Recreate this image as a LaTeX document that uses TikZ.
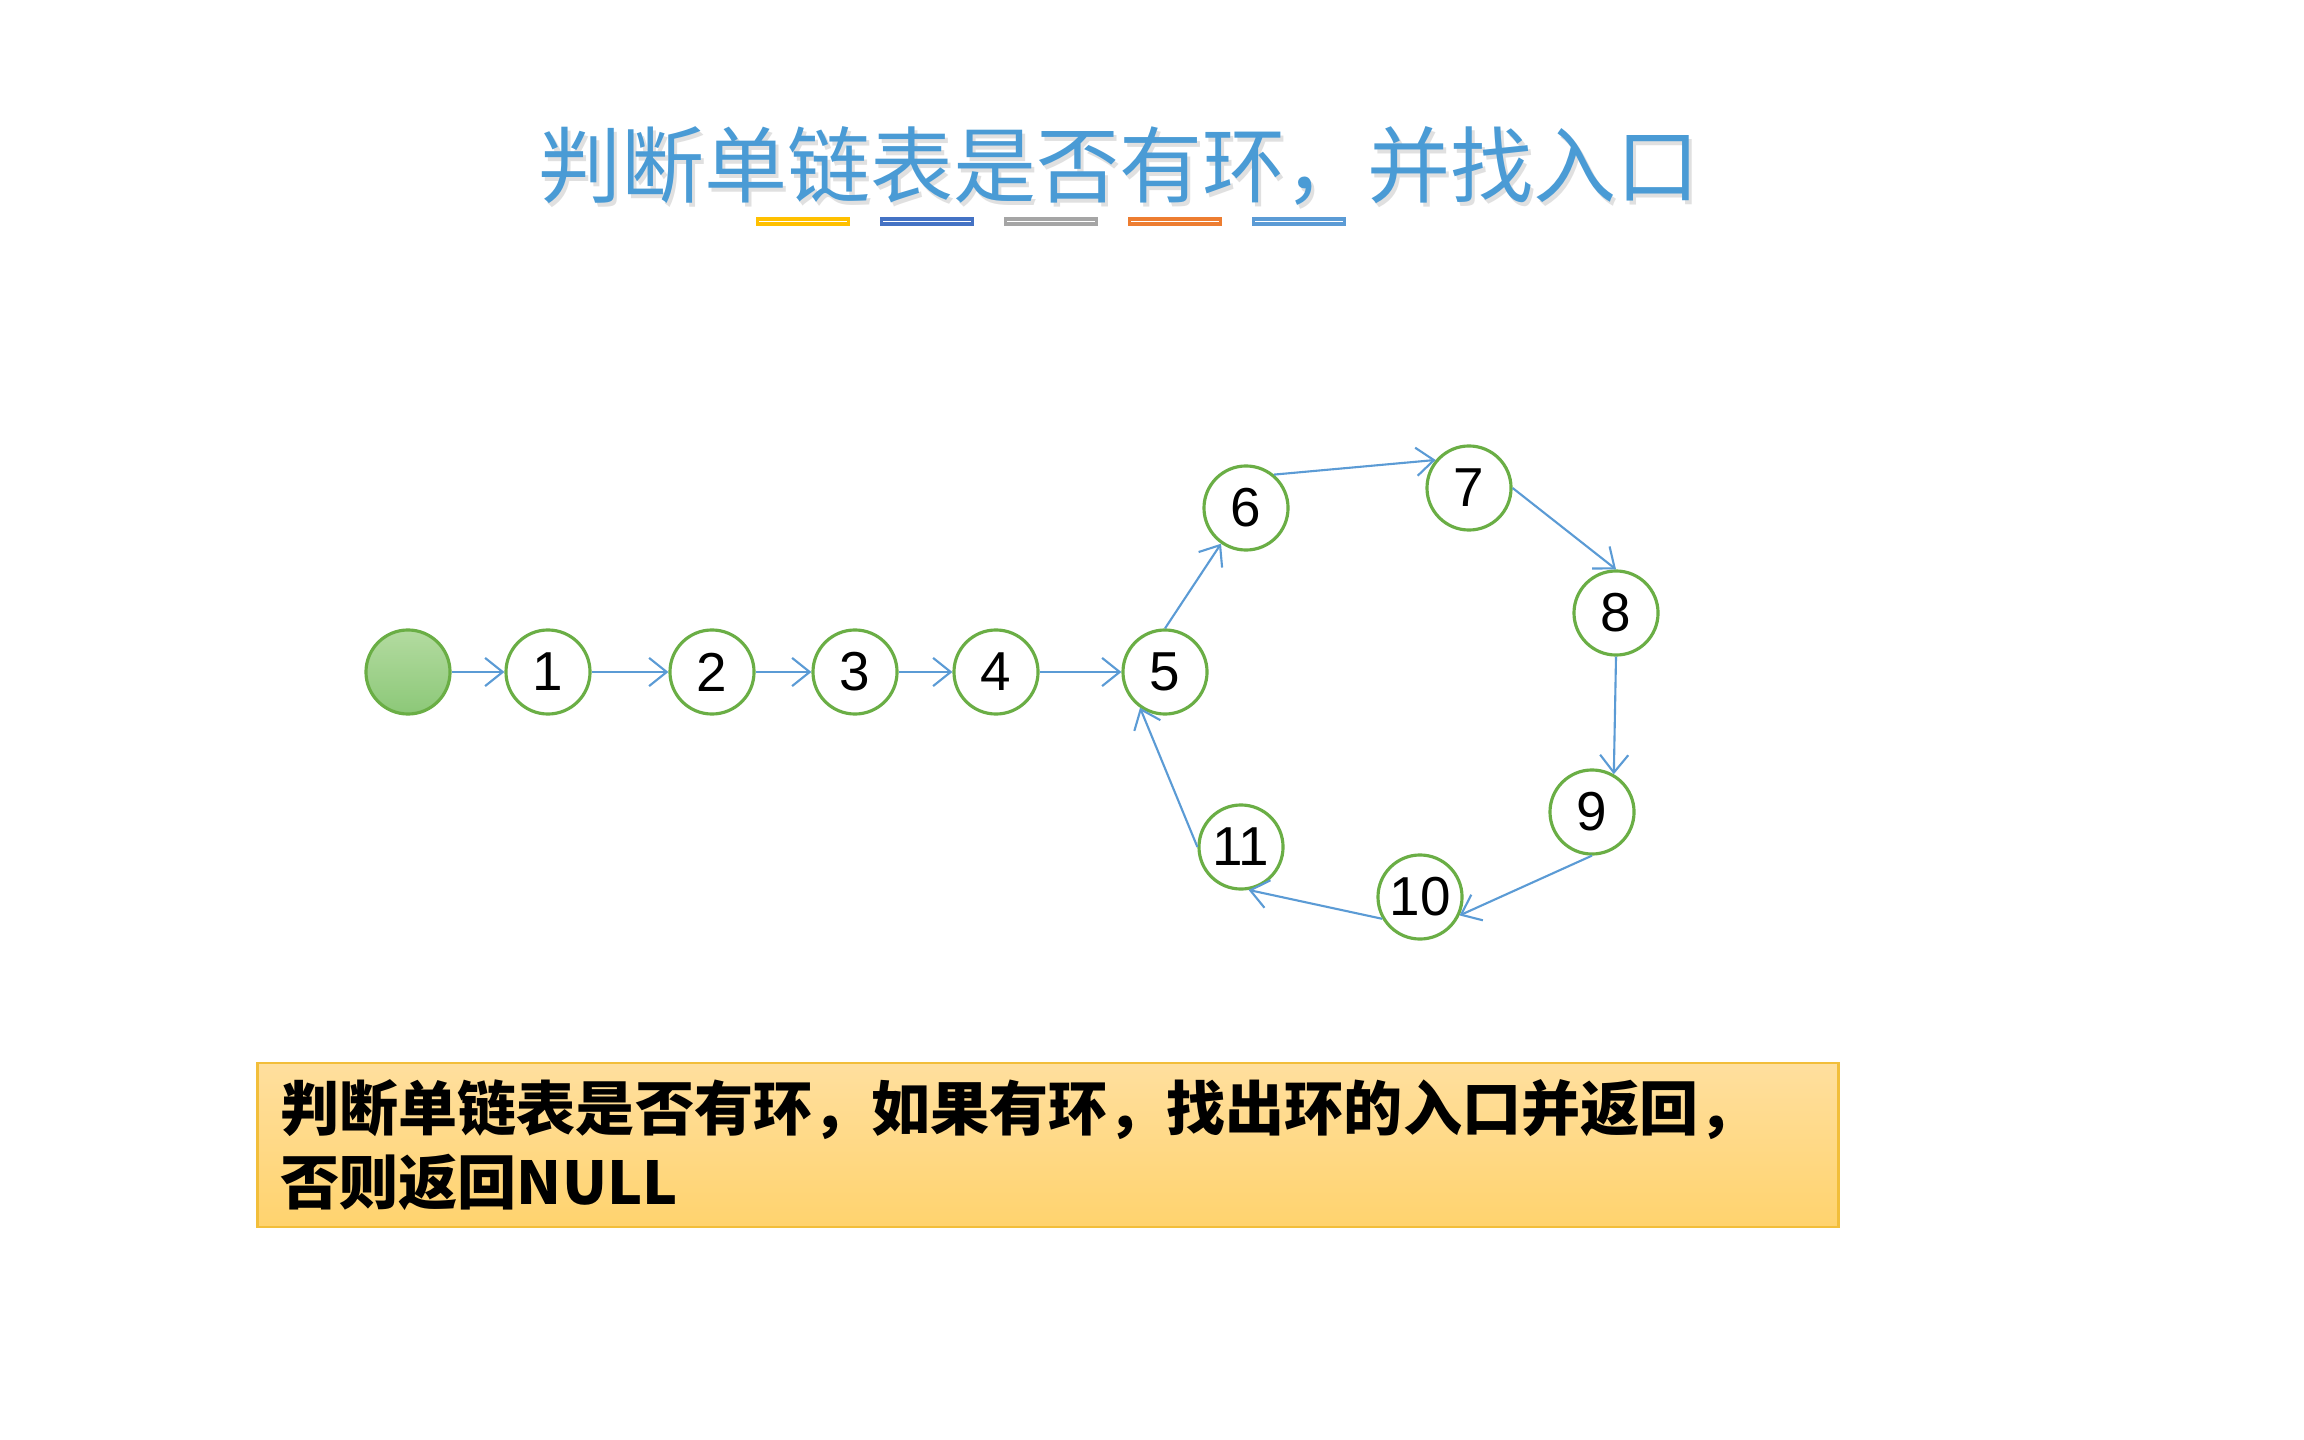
\documentclass[tikz,border=0pt]{standalone}
\usepackage{fontspec}
\setmainfont{Liberation Sans}
\newfontfamily\cjk{Noto Sans CJK SC}
\usetikzlibrary{arrows.meta}
\definecolor{titleblue}{HTML}{4A9BD5}
\definecolor{nodegreen}{HTML}{6AAE45}
\definecolor{lineblue}{HTML}{5B9BD5}
\definecolor{starttop}{HTML}{B3DBA0}
\definecolor{startbottom}{HTML}{8CC878}
\definecolor{boxtop}{HTML}{FFDF9E}
\definecolor{boxbottom}{HTML}{FFD36E}
\definecolor{boxedge}{HTML}{F2BE3A}
\definecolor{barYellow}{HTML}{FFC000}
\definecolor{barBlue}{HTML}{4472C4}
\definecolor{barGray}{HTML}{A5A5A5}
\definecolor{barOrange}{HTML}{ED7D31}
\definecolor{barLight}{HTML}{5B9BD5}
\begin{document}
\begin{tikzpicture}[x=0.01cm, y=-0.01cm,
    main/.style = {draw=nodegreen, circle, line width=0.9pt, minimum size=0.84cm, inner sep=0pt, font=\fontsize{15.6pt}{18pt}\selectfont},
    arr/.style = {draw=lineblue, line width=0.6pt, -{Straight Barb[length=5pt,width=8pt]}}]
    \fill[white] (0,0) rectangle (2304,1440);
    \useasboundingbox (0,0) rectangle (2304,1440);
    % title
    \node[text=black!12, font=\cjk\fontsize{23.6pt}{28pt}\selectfont] at (1122,170) {判断单链表是否有环，并找入口};
    \node (title)[text=titleblue, font=\cjk\fontsize{23.6pt}{28pt}\selectfont] at (1119,166) {判断单链表是否有环，并找入口};
    \foreach \c [count=\i from 0] in {barYellow,barBlue,barGray,barOrange,barLight} {
        \fill[\c] ({756+124*\i},217) rectangle ++(94,9);
        \draw[white, line width=0.3pt] ({759+124*\i},221.5) -- ++(88,0);
    }
    % list
    \node[main, top color=starttop, bottom color=startbottom] (0) at (408,672) {};
    \node[main] (1) at (548,672) {1};
    \node[main] (2) at (712,672) {2};
    \node[main] (3) at (855,672) {3};
    \node[main] (4) at (996,672) {4};
    \node[main] (5) at (1165,672) {5};
    \node[main] (6) at (1246,508) {6};
    \node[main] (7) at (1469,488) {7};
    \node[main] (8) at (1616,613) {8};
    \node[main] (9) at (1592,812) {9};
    \node[main] (10) at (1420,897) {10};
    \node[main] (11) at (1241,847) {11};
    \draw[arr] (0) -- (1);
    \draw[arr] (1) -- (2);
    \draw[arr] (2) -- (3);
    \draw[arr] (3) -- (4);
    \draw[arr] (4) -- (5);
    \draw[arr] (5.north) -- (6.235);
    \draw[arr] (6.50) -- (7.140);
    \draw[arr] (7.east) -- (8.north);
    \draw[arr] (8.south) -- (9.60);
    \draw[arr] (9.south) -- (10.-25);
    \draw[arr] (10.210) -- (11.-80);
    \draw[arr] (11.west) -- (5.235);
    % question
    \node (box)[draw=boxedge, line width=0.8pt, top color=boxtop, bottom color=boxbottom, minimum width=15.8cm, minimum height=1.64cm, text width=15.34cm, inner xsep=0.23cm, inner ysep=0.06cm, align=left, font=\cjk\bfseries\fontsize{16.8pt}{21pt}\selectfont] at (1048,1145) {判断单链表是否有环，如果有环，找出环的入口并返回，\\否则返回NULL};
\end{tikzpicture}
\end{document}
